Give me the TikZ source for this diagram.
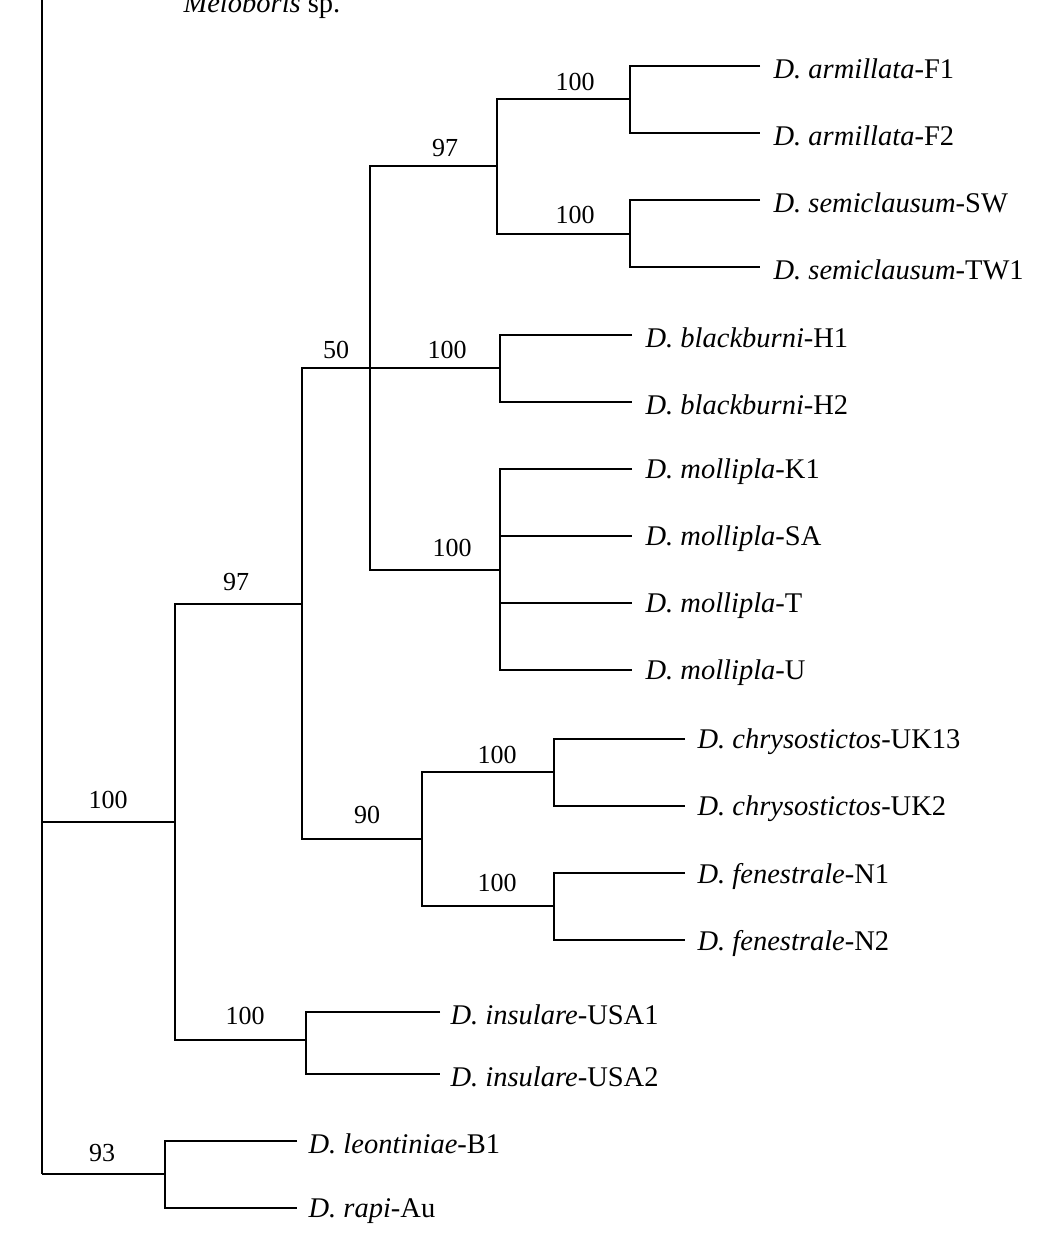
\documentclass[tikz,border=0pt]{standalone}
\usepackage{fontspec}
\setmainfont{Liberation Serif}
\begin{document}
\begin{tikzpicture}[x=1pt,y=-1pt,line width=1.2pt,
 tx/.style={anchor=west,inner sep=0pt,font=\fontsize{28.5}{32}\selectfont},
 bs/.style={inner sep=0pt,font=\fontsize{26}{30}\selectfont}]
\useasboundingbox (0,0) rectangle (1042,1240);
% taxa labels
\node[tx] at (183,6) {\textit{Meloboris} sp.};
\foreach \y/\t/\x in {66/{\textit{D. armillata}-F1}/773,133/{\textit{D. armillata}-F2}/773,200/{\textit{D. semiclausum}-SW}/773,267/{\textit{D. semiclausum}-TW1}/773,
335/{\textit{D. blackburni}-H1}/645,402/{\textit{D. blackburni}-H2}/645,469/{\textit{D. mollipla}-K1}/645,536/{\textit{D. mollipla}-SA}/645,603/{\textit{D. mollipla}-T}/645,670/{\textit{D. mollipla}-U}/645,
739/{\textit{D. chrysostictos}-UK13}/697,806/{\textit{D. chrysostictos}-UK2}/697,873/{\textit{D. fenestrale}-N1}/697,940/{\textit{D. fenestrale}-N2}/697,
1012/{\textit{D. insulare}-USA1}/450,1074/{\textit{D. insulare}-USA2}/450,1141/{\textit{D. leontiniae}-B1}/308,1208/{\textit{D. rapi}-Au}/308}
 \node[tx] at (\x,\y+3) {\t};
% branches
\draw (42,0) -- (42,1174);
\draw (760,66) -| (630,133) -- (760,133);
\draw (760,200) -| (630,267) -- (760,267);
\draw (630,99) -| (497,234) -- (630,234);
\draw (497,166) -| (370,570) -- (500,570);
\draw (632,335) -| (500,402) -- (632,402);
\draw (632,469) -| (500,670) -- (632,670);
\draw (500,536) -- (632,536); \draw (500,603) -- (632,603);
\draw (500,368) -| (302,839) -- (422,839);
\draw (685,739) -| (554,806) -- (685,806);
\draw (685,873) -| (554,940) -- (685,940);
\draw (554,772) -| (422,906) -- (554,906);
\draw (302,604) -| (175,1040) -- (306,1040);
\draw (440,1012) -| (306,1074) -- (440,1074);
\draw (42,822) -- (175,822);
\draw (297,1141) -| (165,1208) -- (297,1208);
\draw (42,1174) -- (165,1174);
% support values
\foreach \x/\y/\v in {575/82/100,575/215/100,445/148/97,336/350/50,447/350/100,452/548/100,236/582/97,497/755/100,497/883/100,367/815/90,245/1016/100,108/800/100,102/1153/93}
 \node[bs] at (\x,\y) {\v};
\end{tikzpicture}
\end{document}
